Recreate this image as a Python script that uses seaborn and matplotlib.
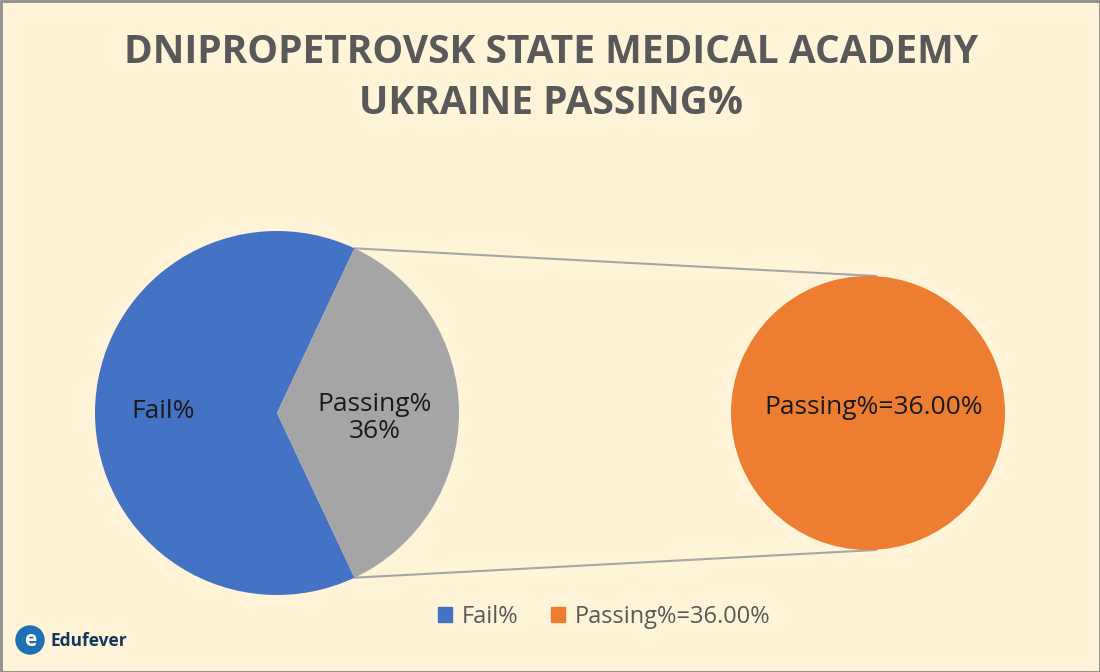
import matplotlib
matplotlib.use("Agg")
import matplotlib.pyplot as plt
import seaborn as sns
import numpy as np
from matplotlib.patches import Patch, Circle, Rectangle

# chart data
categories = ["Fail%", "Passing%"]
shares = [64, 36]
detail_labels = ["Passing%=36.00%"]
detail_values = [36]
title_text = "DNIPROPETROVSK STATE MEDICAL ACADEMY\nUKRAINE PASSING%"

sns.set_theme(style="white")
plt.rcParams['font.family'] = ['Open Sans', 'DejaVu Sans']

bg = "#FFF4D8"
palette = {"Fail%": "#4472C4", "Passing%": "#A5A5A5", "detail": "#ED7D31"}
text_gray = "#595959"

W, H = 1100, 672
fig = plt.figure(figsize=(W / 100, H / 100), dpi=100, facecolor=bg)
ax = fig.add_axes([0, 0, 1, 1])
ax.set_facecolor(bg)

# main pie (pixel coordinates, y up)
main_c = (277, H - 413)
main_r = 182
start = shares[1] / sum(shares) * 360 / 2
ax.pie(shares, colors=[palette[c] for c in categories], startangle=start,
       center=main_c, radius=main_r, frame=True,
       wedgeprops=dict(linewidth=0))

# secondary pie
sub_c = (868, H - 413)
sub_r = 137
ax.pie(detail_values, colors=[palette["detail"]], center=sub_c, radius=sub_r,
       frame=True, wedgeprops=dict(linewidth=0))

# connector lines from passing wedge edges to top/bottom of second pie
half = np.deg2rad(start)
x0 = main_c[0] + main_r * np.cos(half)
ax.plot([x0, sub_c[0] + 8], [main_c[1] + main_r * np.sin(half), sub_c[1] + sub_r],
        color="#A6A6A6", lw=1.5, zorder=0.5)
ax.plot([x0, sub_c[0] + 8], [main_c[1] - main_r * np.sin(half), sub_c[1] - sub_r],
        color="#A6A6A6", lw=1.5, zorder=0.5)

# data labels
ax.text(163, H - 412, categories[0], fontsize=19, color="#1a1a1a",
        ha="center", va="center")
ax.text(375, H - 418, f"{categories[1]}\n{shares[1]}%", fontsize=19,
        color="#1a1a1a", ha="center", va="center", linespacing=1.15)
ax.text(874, H - 408, detail_labels[0], fontsize=19, color="#1a1a1a",
        ha="center", va="center")

# title
ax.text(551, H - 78, title_text, fontsize=28, fontweight="bold", color=text_gray,
        ha="center", va="center", linespacing=1.4)

# legend
handles = [Patch(color=palette["Fail%"], label=categories[0]),
           Patch(color=palette["detail"], label=detail_labels[0])]
ax.legend(handles=handles, loc="center", bbox_to_anchor=(604 / W, 1 - 617 / H),
          ncol=2, frameon=False, fontsize=17, labelcolor=text_gray,
          handlelength=0.6, handleheight=0.6, handletextpad=0.4,
          columnspacing=1.4)

# logo
ax.add_patch(Circle((30, H - 640), 14, color="#1f6fb5", zorder=3))
ax.text(30, H - 641, "e", fontsize=15, fontweight="bold", color="white",
        ha="center", va="center", zorder=4)
ax.text(50, H - 641, "Edufever", fontsize=12.5, fontweight="bold",
        color="#15365f", ha="left", va="center")

# border
ax.add_patch(Rectangle((0.5, 0.5), W - 1, H - 1, fill=False, ec="#8c8c8c", lw=2))

ax.set_xlim(0, W)
ax.set_ylim(0, H)
ax.set_aspect("equal")
ax.axis("off")

fig.savefig("out.png", dpi=100, facecolor=bg)
